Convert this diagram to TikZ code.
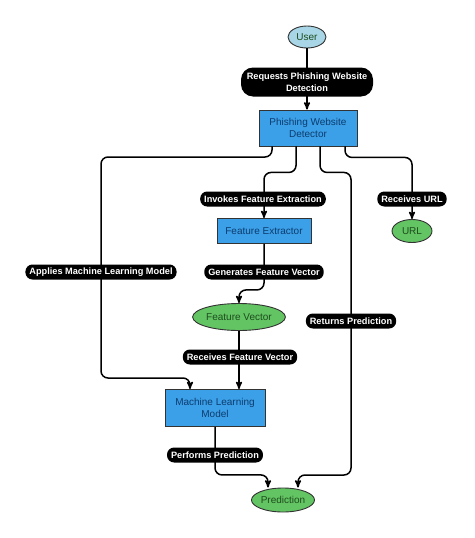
\documentclass[tikz,border=0pt]{standalone}
\usepackage{fontspec}
\setmainfont{Liberation Sans}
\usepackage{tikz}
\usetikzlibrary{arrows,shapes.geometric}

\definecolor{boxblue}{HTML}{3BA0E8}
\definecolor{boxtext}{HTML}{0D3C6E}
\definecolor{ellgreen}{HTML}{63C463}
\definecolor{elltext}{HTML}{1E4D1E}
\definecolor{userblue}{HTML}{A8D6E6}

\begin{document}
\begin{tikzpicture}[x=1pt,y=-1pt]
	
	\tikzset{block/.style = {shape=rectangle,draw=black!80,fill=boxblue,text=boxtext,line width=0.9pt,align=center,font=\fontsize{10}{12}\selectfont,inner sep=1pt}}
	\tikzset{oval/.style = {shape=ellipse,draw=black!80,fill=ellgreen,text=elltext,line width=0.9pt,font=\fontsize{10}{12}\selectfont,inner sep=0pt}}
	\tikzset{lbl/.style = {shape=rectangle,fill=black,text=white,rounded corners=7pt,align=center,font=\bfseries\fontsize{9.2}{11.5}\selectfont,inner xsep=4pt,inner ysep=2pt,minimum height=15pt}}
	\tikzset{edge/.style = {->,> = stealth',line width=1.5pt,rounded corners=7pt}}
	
	\useasboundingbox (0,0) rectangle (474,538);
	
	\node[oval,fill=userblue,minimum width=38pt,minimum height=22pt] (user) at (307,37) {User};
	\node[block,minimum width=98pt,minimum height=36pt] (det) at (308,128) {Phishing Website\\Detector};
	\node[block,minimum width=94pt,minimum height=25pt] (fext) at (264,231) {Feature Extractor};
	\node[oval,minimum width=40pt,minimum height=23pt] (url) at (412,231) {URL};
	\node[oval,minimum width=82pt,minimum height=27pt] (fvec) at (239,317) {Feature Vector};
	\node[block,minimum width=100pt,minimum height=37pt] (ml) at (215,408) {Machine Learning\\Model};
	\node[oval,minimum width=63pt,minimum height=24pt] (pred) at (283,500) {Prediction};
	
	\draw[edge] (user.south) -- (user.south |- det.north);
	\draw[edge] ([xshift=-36pt]det.south) |- (101,157) -- (101,378) -| ([xshift=-25pt]ml.north);
	\draw[edge] ([xshift=-12pt]det.south) -- ++(0,26) -| (fext.north);
	\draw[edge] ([xshift=12pt]det.south) -- ++(0,26) -| (351,475) -| ([xshift=15pt]pred.north);
	\draw[edge] ([xshift=37pt]det.south) -- ++(0,11) -| (url.north);
	\draw[edge] (fext.south) -- ++(0,46) -| (fvec.north);
	\draw[edge] (fvec.south) -- (fvec.south |- ml.north);
	\draw[edge] (ml.south) -- ++(0,48) -| ([xshift=-15pt]pred.north);
	
	\node[lbl,minimum width=132pt,minimum height=29pt,rounded corners=12pt] (lreq) at (307,82) {Requests Phishing Website\\Detection};
	\node[lbl] (linv) at (263,199) {Invokes Feature Extraction};
	\node[lbl] (lurl) at (412,199) {Receives URL};
	\node[lbl] (lapp) at (101,272) {Applies Machine Learning Model};
	\node[lbl] (lgen) at (264,272) {Generates Feature Vector};
	\node[lbl] (lret) at (351,321) {Returns Prediction};
	\node[lbl] (lrec) at (240,357) {Receives Feature Vector};
	\node[lbl] (lperf) at (215,455) {Performs Prediction};
	\end{tikzpicture}
\end{document}
